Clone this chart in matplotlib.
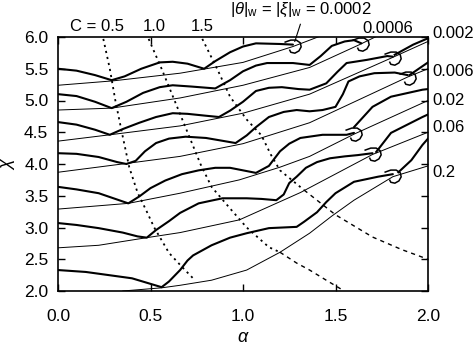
import matplotlib
matplotlib.use("Agg")
import matplotlib.pyplot as plt
from matplotlib.path import Path

plt.rcParams['font.family'] = ['Liberation Sans', 'DejaVu Sans']
plt.rcParams['mathtext.fontset'] = 'custom'
plt.rcParams['mathtext.rm'] = 'Liberation Sans'
plt.rcParams['mathtext.it'] = 'Liberation Sans:italic'

# thin curves (alpha, chi)
thin_a = [
    [0, 0.3, 0.66, 1.0, 1.27, 1.45],
    [0, 0.29, 0.66, 1.0, 1.36, 1.63, 1.75],
    [0, 0.28, 0.66, 1.0, 1.36, 1.81, 2.0],
    [0, 0.4, 0.66, 1.0, 1.36, 1.89, 2.0],
    [0, 0.38, 0.66, 0.98, 1.2, 1.36, 1.6, 2.0],
    [0, 0.22, 0.48, 0.66, 0.98, 1.31, 1.7, 2.0],
    [0.35, 0.56, 0.66, 0.83, 1.02, 1.2, 1.36, 1.48, 1.6, 1.81, 2.0],
]
thin_c = [
    [5.24, 5.31, 5.43, 5.6, 5.85, 6.05],
    [4.85, 4.88, 5.04, 5.24, 5.52, 5.88, 6.05],
    [4.36, 4.46, 4.6, 4.8, 5.1, 5.68, 5.93],
    [3.87, 4.02, 4.12, 4.32, 4.65, 5.37, 5.5],
    [3.29, 3.38, 3.54, 3.75, 3.95, 4.12, 4.47, 5.0],
    [2.68, 2.72, 2.84, 2.92, 3.12, 3.55, 4.15, 4.5],
    [2.0, 2.05, 2.09, 2.17, 2.33, 2.61, 2.91, 3.18, 3.43, 3.8, 3.97],
]

# thick curves, each ending in a curl
thick_a = [
    [0, 0.1, 0.2, 0.29, 0.36, 0.45, 0.55, 0.62, 0.70, 0.79, 0.85, 0.93, 1.0, 1.07, 1.2, 1.27],
    [0, 0.1, 0.2, 0.29, 0.37, 0.46, 0.55, 0.62, 0.72, 0.85, 0.93, 1.0, 1.07, 1.13, 1.27, 1.36,
     1.42, 1.48, 1.55, 1.6, 1.64],
    [0, 0.1, 0.2, 0.28, 0.35, 0.44, 0.53, 0.62, 0.7, 0.8, 0.87, 0.93, 1.0, 1.07, 1.14, 1.21,
     1.3, 1.36, 1.45, 1.51, 1.56, 1.67, 1.78, 1.81],
    [0, 0.1, 0.22, 0.32, 0.37, 0.42, 0.47, 0.53, 0.6, 0.69, 0.8, 0.9, 0.96, 1.02, 1.07, 1.14,
     1.22, 1.29, 1.36, 1.43, 1.5, 1.54, 1.57, 1.63, 1.71, 1.82, 1.89],
    [0, 0.1, 0.22, 0.32, 0.38, 0.44, 0.5, 0.58, 0.67, 0.76, 0.85, 0.93, 1.0, 1.07, 1.14, 1.2,
     1.25, 1.31, 1.43, 1.56, 1.6],
    [0, 0.1, 0.22, 0.35, 0.43, 0.48, 0.53, 0.6, 0.66, 0.76, 0.84, 0.89, 1.02, 1.1, 1.18, 1.22,
     1.25, 1.29, 1.34, 1.4, 1.47, 1.55, 1.62, 1.70],
    [0, 0.15, 0.3, 0.4, 0.48, 0.56, 0.6, 0.66, 0.7, 0.73, 0.83, 0.93, 1.02, 1.14, 1.29, 1.33,
     1.40, 1.45, 1.5, 1.6, 1.73, 1.81],
]
thick_c = [
    [5.50, 5.47, 5.40, 5.32, 5.38, 5.50, 5.60, 5.61, 5.58, 5.50, 5.62, 5.76, 5.85, 5.90, 5.89, 5.88],
    [5.10, 5.07, 4.98, 4.88, 4.98, 5.12, 5.21, 5.24, 5.22, 5.19, 5.32, 5.46, 5.55, 5.59, 5.59, 5.56,
     5.70, 5.86, 5.93, 5.95, 5.90],
    [4.66, 4.62, 4.54, 4.46, 4.55, 4.65, 4.74, 4.80, 4.79, 4.76, 4.74, 4.84, 4.98, 5.15, 5.20, 5.21,
     5.18, 5.17, 5.27, 5.45, 5.59, 5.64, 5.70, 5.69],
    [4.17, 4.16, 4.11, 4.03, 4.0, 4.05, 4.2, 4.33, 4.4, 4.43, 4.41, 4.36, 4.33, 4.45, 4.58, 4.74,
     4.82, 4.85, 4.83, 4.85, 4.9, 5.1, 5.3, 5.38, 5.43, 5.44, 5.40],
    [3.64, 3.60, 3.54, 3.44, 3.38, 3.49, 3.62, 3.74, 3.84, 3.90, 3.94, 3.94, 3.90, 3.86, 3.97, 4.20,
     4.32, 4.41, 4.46, 4.46, 4.49],
    [3.07, 3.04, 2.99, 2.92, 2.86, 2.84, 2.96, 3.10, 3.23, 3.38, 3.43, 3.46, 3.46, 3.45, 3.43, 3.52,
     3.70, 3.80, 3.94, 4.03, 4.09, 4.12, 4.14, 4.17],
    [2.33, 2.30, 2.24, 2.20, 2.13, 2.06, 2.15, 2.33, 2.48, 2.56, 2.72, 2.84, 2.91, 2.99, 3.01, 3.09,
     3.24, 3.40, 3.54, 3.72, 3.80, 3.84],
]

# thick continuations beyond the curl, to the right edge
cont_a = [
    [1.82, 1.92, 2.0],
    [1.90, 1.95, 2.0],
    [1.60, 1.70, 1.80, 1.97, 2.0],
    [1.72, 1.80, 1.97, 2.0],
    [1.84, 1.91, 1.97, 2.0],
]
cont_c = [
    [5.72, 5.88, 5.98],
    [5.40, 5.50, 5.60],
    [4.58, 4.90, 5.06, 5.17, 5.18],
    [4.19, 4.49, 4.74, 4.78],
    [3.87, 4.06, 4.30, 4.40],
]

curl_a = [1.27, 1.64, 1.81, 1.89, 1.60, 1.70, 1.81]
curl_c = [5.87, 5.90, 5.69, 5.37, 4.49, 4.17, 3.83]

# constant-C curves: dotted part then dashed part
c_dot_a = [
    [0.245, 0.28, 0.31, 0.345, 0.385, 0.43, 0.48, 0.52, 0.6, 0.67, 0.73],
    [0.49, 0.56, 0.63, 0.70, 0.77, 0.83, 0.93, 1.02, 1.14, 1.2],
    [0.78, 0.86, 0.93, 1.02, 1.1, 1.15, 1.2, 1.33],
]
c_dot_c = [
    [5.97, 5.5, 5.0, 4.5, 3.95, 3.55, 3.25, 3.0, 2.6, 2.38, 2.2],
    [5.97, 5.5, 5.0, 4.5, 4.0, 3.64, 3.3, 3.0, 2.69, 2.61],
    [5.97, 5.5, 5.06, 4.7, 4.45, 4.15, 3.9, 3.59],
]
c_dash_a = [
    [],
    [1.2, 1.29, 1.36, 1.45, 1.53],
    [1.33, 1.5, 1.7, 1.86, 2.0],
]
c_dash_c = [
    [],
    [2.61, 2.44, 2.33, 2.17, 2.03],
    [3.59, 3.2, 2.85, 2.65, 2.5],
]
c_labels = ['C = 0.5', '1.0', '1.5']
c_label_a = [0.21, 0.52, 0.78]

right_labels = ['0.002', '0.006', '0.02', '0.06', '0.2']
right_label_c = [6.05, 5.46, 5.0, 4.57, 3.86]

# curl marker shape
curl_marker = Path([(-1.0, 0.35), (-0.3, 0.6), (0.3, 0.6), (0.75, 0.3), (0.85, -0.15),
                    (0.6, -0.6), (0.15, -0.85), (-0.3, -0.75), (-0.45, -0.45)])

fig = plt.figure(figsize=(4.74, 3.46), dpi=100)
ax = fig.add_axes([58 / 474, 1 - 291 / 346, 370 / 474, 254 / 346])

for a, c in zip(thin_a, thin_c):
    ax.plot(a, c, color='black', lw=0.7, solid_joinstyle='round')
for a, c in zip(thick_a, thick_c):
    ax.plot(a, c, color='black', lw=1.5, solid_joinstyle='round', solid_capstyle='round')
for a, c in zip(cont_a, cont_c):
    ax.plot(a, c, color='black', lw=1.5, solid_joinstyle='round')
ax.plot(curl_a, curl_c, ls='none', marker=curl_marker, ms=13, mfc='none',
        mec='black', mew=1.1)

for a, c in zip(c_dot_a, c_dot_c):
    ax.plot(a, c, color='black', lw=1.3, ls=(0, (1.2, 2.2)))
for a, c in zip(c_dash_a, c_dash_c):
    if a:
        ax.plot(a, c, color='black', lw=1.0, ls=(0, (3, 3)))

ax.set_xlim(0, 2.0)
ax.set_ylim(2.0, 6.0)
ax.set_xticks([0, 0.5, 1.0, 1.5, 2.0])
ax.set_yticks([2.0, 2.5, 3.0, 3.5, 4.0, 4.5, 5.0, 5.5, 6.0])
ax.xaxis.set_major_formatter(plt.FormatStrFormatter('%.1f'))
ax.yaxis.set_major_formatter(plt.FormatStrFormatter('%.1f'))
ax.tick_params(direction='in', top=True, right=True, length=5, width=1.0, labelsize=12.5)
ax.tick_params(axis='x', pad=13)
ax.tick_params(axis='y', pad=7)
for s in ax.spines.values():
    s.set_linewidth(1.2)

for lab, a in zip(c_labels, c_label_a):
    ax.text(a, 6.17, lab, ha='center', va='center', fontsize=12, clip_on=False)

ax.text(0.93, 6.43, r'$|\theta|_{\rm w}$ = $|\xi|_{\rm w}$ = 0.0002', ha='left', va='center',
        fontsize=12, clip_on=False)
ax.plot([1.31, 1.28], [6.2, 5.93], color='black', lw=0.8, clip_on=False)
ax.text(1.78, 6.14, '0.0006', ha='center', va='center', fontsize=12, clip_on=False)

for lab, c in zip(right_labels, right_label_c):
    ax.text(2.025, c, lab, ha='left', va='center', fontsize=12, clip_on=False)

fig.text(243 / 474, 1 - 337 / 346, r'$\alpha$', ha='center', va='center', fontsize=13)
fig.text(8 / 474, 1 - 163 / 346, r'$\chi$', rotation=90, ha='center', va='center', fontsize=13)

fig.savefig('out.png', dpi=100)
